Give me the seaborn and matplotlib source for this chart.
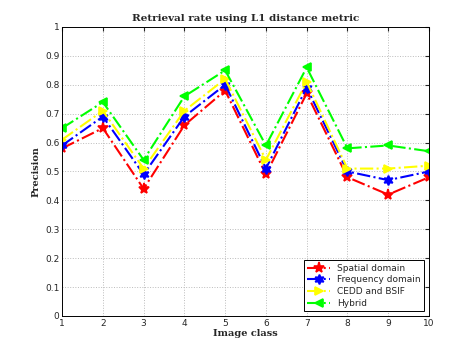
import numpy as np
import pandas as pd
import matplotlib
matplotlib.use("Agg")
import matplotlib.pyplot as plt
import seaborn as sns

image_class = [1, 2, 3, 4, 5, 6, 7, 8, 9, 10]
spatial = [0.58, 0.65, 0.44, 0.66, 0.78, 0.49, 0.77, 0.48, 0.42, 0.48]
frequency = [0.59, 0.69, 0.49, 0.69, 0.80, 0.51, 0.79, 0.50, 0.47, 0.50]
cedd_bsif = [0.61, 0.71, 0.51, 0.71, 0.82, 0.54, 0.81, 0.51, 0.51, 0.52]
hybrid = [0.65, 0.74, 0.54, 0.76, 0.85, 0.59, 0.86, 0.58, 0.59, 0.57]

series_names = ['Spatial domain', 'Frequency domain', 'CEDD and BSIF', 'Hybrid']
colors = ['#ff0000', '#0000ff', '#ffff00', '#00ff00']
markers = ['*', (6, 1, 0), '>', '<']
msizes = [8, 7, 6, 6]

df = pd.DataFrame({
    'Image class': image_class * 4,
    'Precision': spatial + frequency + cedd_bsif + hybrid,
    'Method': np.repeat(series_names, len(image_class)),
})

sns.set_style('white')
plt.rcParams['font.family'] = ['DejaVu Sans']

fig, ax = plt.subplots(figsize=(4.74, 3.55), dpi=100)
fig.subplots_adjust(left=0.131, right=0.905, top=0.924, bottom=0.11)

for name, c, m, ms in zip(series_names, colors, markers, msizes):
    sub = df[df['Method'] == name]
    sns.lineplot(data=sub, x='Image class', y='Precision', ax=ax, color=c,
                 marker=m, markersize=ms, markeredgecolor=c, markeredgewidth=1.2,
                 linestyle='-.', linewidth=1.5, label=name)

ax.set_xlim(1, 10)
ax.set_ylim(0, 1)
ax.set_xticks(image_class)
ax.set_yticks(np.arange(0, 1.01, 0.1))
ax.set_yticklabels(['0', '0.1', '0.2', '0.3', '0.4', '0.5', '0.6', '0.7', '0.8', '0.9', '1'])
ax.tick_params(direction='in', labelsize=6.5, length=3, top=True, right=True, pad=2)
ax.grid(True, linestyle=':', color='#bbbbbb', linewidth=0.7)
for s in ax.spines.values():
    s.set_color('black')
    s.set_linewidth(0.7)

ax.set_title('Retrieval rate using L1 distance metric', fontsize=7.5, fontweight='bold',
             family='DejaVu Serif', pad=4)
ax.set_xlabel('Image class', fontsize=7, fontweight='bold', family='DejaVu Serif', labelpad=1)
ax.set_ylabel('Precision', fontsize=7, fontweight='bold', family='DejaVu Serif', labelpad=3)

leg = ax.legend(loc='lower right', fontsize=6.5, frameon=True, fancybox=False,
                edgecolor='black', framealpha=1, handlelength=2.5, borderpad=0.4,
                labelspacing=0.3)
leg.get_frame().set_linewidth(0.7)

fig.savefig('out.png', dpi=100)
